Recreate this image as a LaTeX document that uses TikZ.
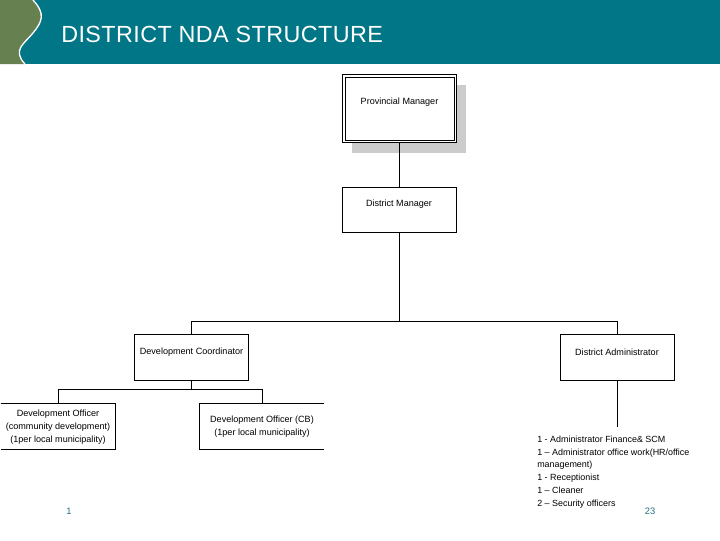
\documentclass[tikz,border=0pt]{standalone}
\usepackage{fontspec}
\setmainfont{Liberation Sans}
\usetikzlibrary{calc}
\usetikzlibrary{positioning}
\definecolor{headteal}{HTML}{007686}
\definecolor{headgreen}{HTML}{66804F}
\definecolor{shadowgrey}{HTML}{CCCCCC}
\definecolor{pagenum}{HTML}{1F6F80}
\begin{document}
\begin{tikzpicture}[x=0.75pt,y=-0.75pt,every node/.style = {align=center,inner sep=0pt,text=black},
    boxtext/.style = {font=\fontsize{6.8}{9.6}\selectfont},
    postbox/.style = {draw=black,line width=0.6pt,fill=white,minimum width=85.5pt,minimum height=34pt,boxtext},
    openbox/.style = {postbox,draw=none},
    link/.style = {draw=black,line width=0.7pt}]
\useasboundingbox (0,0) rectangle (720,540);
% header band
\fill[headteal] (0,0) rectangle (720,64);
\fill[headgreen] (0,0) -- (33,0) .. controls (46,14) and (42,22) .. (33,33) .. controls (24,44) and (12,50) .. (25,64) -- (0,64) -- cycle;
\draw[white,line width=1pt] (33,0) .. controls (46,14) and (42,22) .. (33,33) .. controls (24,44) and (12,50) .. (25,64);
\node[text=white,anchor=base west,font=\fontsize{17.5}{20}\selectfont\addfontfeature{LetterSpace=1.8}] (title) at (61,42) {DISTRICT NDA STRUCTURE};
% boxes
\fill[shadowgrey] (352,85) rectangle (466,153);
\node[postbox,minimum width=85pt,minimum height=50.5pt] (pm) at (399.5,108.5) {};
\draw[line width=0.6pt] ($(pm.north west)+(2.5,2.5)$) rectangle ($(pm.south east)+(-2.5,-2.5)$);
\node[boxtext] (pmtext) at (399.5,102) {Provincial Manager};
\node[postbox] (dm) at (399,210) {};
\node[boxtext] (dmtext) at (399,204) {District Manager};
\node[postbox] (dc) at (191.5,357.5) {};
\node[boxtext] (dctext) at (191.5,352) {Development Coordinator};
\node[postbox] (da) at (617,357.5) {};
\node[boxtext] (datext) at (617,352) {District Administrator};
\node[openbox] (dol) at (58,426) {};
\node[boxtext] (doltext) at (58,427) {Development Officer\\(community development)\\(1per local municipality)};
\node[openbox,minimum width=93pt] (dor) at (262,426) {};
\node[boxtext] (dortext) at (262,427) {Development Officer (CB)\\(1per local municipality)};
\draw[link,line width=0.6pt] (dol.north west) -- (dol.north east) -- (dol.south east) -- (dol.south west);
\draw[link,line width=0.6pt] (dor.north east) -- (dor.north west) -- (dor.south west) -- (dor.south east);
% staff list
\coordinate (listtop) at (617,427);
\node[anchor=north west,align=left,font=\fontsize{6.7}{9.6}\selectfont] (stafflist) at (537,435.5) {1 - Administrator Finance\& SCM\\1 -- Administrator office work(HR/office\\management)\\1 - Receptionist\\1 -- Cleaner\\2 -- Security officers};
% connectors
\coordinate (busmid) at (399,321);
\coordinate (busleft) at (191.5,321);
\coordinate (busright) at (617,321);
\coordinate (lowmid) at (191.5,389);
\coordinate (lowleft) at (58,389);
\coordinate (lowright) at (262,389);
\draw[link] (pm.south -| dm.south) -- (dm.north);
\draw[link] (dm.south) -- (busmid);
\draw[link] (dc.north) -- (busleft) -- (busright) -- (da.north);
\draw[link] (dc.south) -- (lowmid);
\draw[link] (dol.north) -- (lowleft) -- (lowright) -- (dor.north);
\draw[link] (da.south) -- (listtop);
% page numbers
\node[text=pagenum,font=\fontsize{7}{9}\selectfont] (pageleft) at (69,511) {1};
\node[text=pagenum,font=\fontsize{7}{9}\selectfont] (pageright) at (650,511) {23};
\end{tikzpicture}
\end{document}
